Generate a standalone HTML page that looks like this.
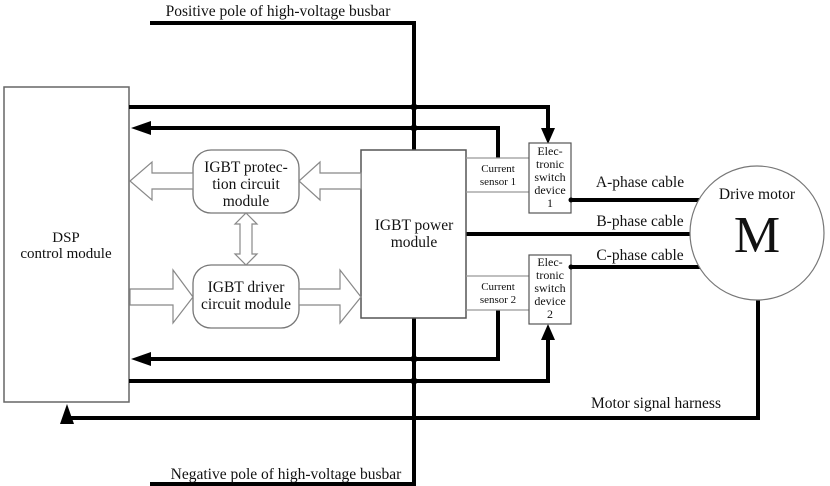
<!DOCTYPE html>
<html><head><style>
html,body{margin:0;padding:0;background:#fff;}
svg{display:block;}
text{font-family:"Liberation Serif",serif;fill:#111;}
</style></head><body>
<svg width="830" height="486" viewBox="0 0 830 486" xmlns="http://www.w3.org/2000/svg">
<rect width="830" height="486" fill="#fff"/>
<!-- DSP -->
<rect x="4" y="87" width="125" height="315" fill="#fff" stroke="#666" stroke-width="1.5"/>
<text x="66" y="242" font-size="15" text-anchor="middle">DSP</text>
<text x="66" y="258" font-size="15" text-anchor="middle">control module</text>
<!-- bus lines -->
<g stroke="#000" stroke-width="4" fill="none">
<polyline points="150,23 414,23 414,150"/>
<polyline points="150,484 414,484 414,318"/>
<polyline points="129,107 548,107 548,133"/>
<polyline points="145,128 498,128 498,158"/>
<polyline points="498,310 498,359 145,359"/>
<polyline points="129,381 548,381 548,335"/>
<line x1="466" y1="234" x2="722" y2="234"/>
<line x1="571" y1="200" x2="700" y2="200"/>
<line x1="571" y1="267" x2="700" y2="267"/>
<polyline points="758,300 758,418 70,418"/>
</g>
<g fill="#000">
<circle cx="414" cy="107" r="3.5"/><circle cx="414" cy="128" r="3.5"/>
<circle cx="414" cy="359" r="3.5"/><circle cx="414" cy="381" r="3.5"/>
<polygon points="541,128 555,128 548,144"/>
<polygon points="541,340 555,340 548,324"/>
<polygon points="131,128 151,121 151,135"/>
<polygon points="131,359 151,352 151,366"/>
<polygon points="60,424 74,424 67,404"/>
</g>
<!-- IGBT power module -->
<rect x="361" y="150" width="105" height="168" fill="#fff" stroke="#555" stroke-width="1.5"/>
<text x="414" y="230" font-size="15.5" text-anchor="middle">IGBT power</text>
<text x="414" y="247" font-size="15.5" text-anchor="middle">module</text>
<!-- sensors -->
<g stroke="#999" stroke-width="1.2">
<line x1="466" y1="158" x2="529" y2="158"/><line x1="466" y1="192" x2="529" y2="192"/>
<line x1="466" y1="276" x2="529" y2="276"/><line x1="466" y1="310" x2="529" y2="310"/>
</g>
<text x="498" y="172" font-size="11" text-anchor="middle">Current</text>
<text x="498" y="185" font-size="11" text-anchor="middle">sensor 1</text>
<text x="498" y="290" font-size="11" text-anchor="middle">Current</text>
<text x="498" y="303" font-size="11" text-anchor="middle">sensor 2</text>
<!-- switches -->
<rect x="529" y="143" width="42" height="70" fill="#fff" stroke="#555" stroke-width="1.2"/>
<rect x="529" y="255" width="42" height="69" fill="#fff" stroke="#555" stroke-width="1.2"/>
<g font-size="12" text-anchor="middle">
<text x="550" y="155">Elec-</text><text x="550" y="168">tronic</text><text x="550" y="181">switch</text><text x="550" y="194">device</text><text x="550" y="207">1</text>
<text x="550" y="266">Elec-</text><text x="550" y="279">tronic</text><text x="550" y="292">switch</text><text x="550" y="305">device</text><text x="550" y="318">2</text>
</g>
<!-- motor -->
<circle cx="757" cy="233" r="67" fill="#fff" stroke="#777" stroke-width="1.2"/>
<circle cx="571" cy="200" r="2.5"/><circle cx="571" cy="267" r="2.5"/>
<text x="757" y="199" font-size="15.5" text-anchor="middle">Drive motor</text>
<text x="757" y="252" font-size="52" text-anchor="middle">M</text>
<g font-size="15.5" text-anchor="middle">
<text x="640" y="187">A-phase cable</text>
<text x="640" y="226">B-phase cable</text>
<text x="640" y="260">C-phase cable</text>
<text x="656" y="408">Motor signal harness</text>
<text x="278" y="16">Positive pole of high-voltage busbar</text>
<text x="286" y="479">Negative pole of high-voltage busbar</text>
</g>
<!-- protection/driver -->
<rect x="193" y="150" width="106" height="63" rx="18" fill="#fff" stroke="#777" stroke-width="1.3"/>
<rect x="193" y="265" width="106" height="63" rx="18" fill="#fff" stroke="#777" stroke-width="1.3"/>
<g font-size="15.5" text-anchor="middle">
<text x="246" y="172">IGBT protec-</text><text x="246" y="189">tion circuit</text><text x="246" y="206">module</text>
<text x="246" y="292">IGBT driver</text><text x="246" y="309">circuit module</text>
</g>
<g fill="#fff" stroke="#888" stroke-width="1.2">
<polygon points="193,173 152,173 152,162 130,181 152,200 152,189 193,189"/>
<polygon points="361,173 320,173 320,162 299,181 320,200 320,189 361,189"/>
<polygon points="130,289 173,289 173,270 193,297 173,323 173,305 130,305"/>
<polygon points="299,289 340,289 340,270 361,297 340,323 340,305 299,305"/>
<polygon points="246,213 257,224 252,224 252,254 257,254 246,265 235,254 240,254 240,224 235,224"/>
</g>
</svg>
</body></html>
